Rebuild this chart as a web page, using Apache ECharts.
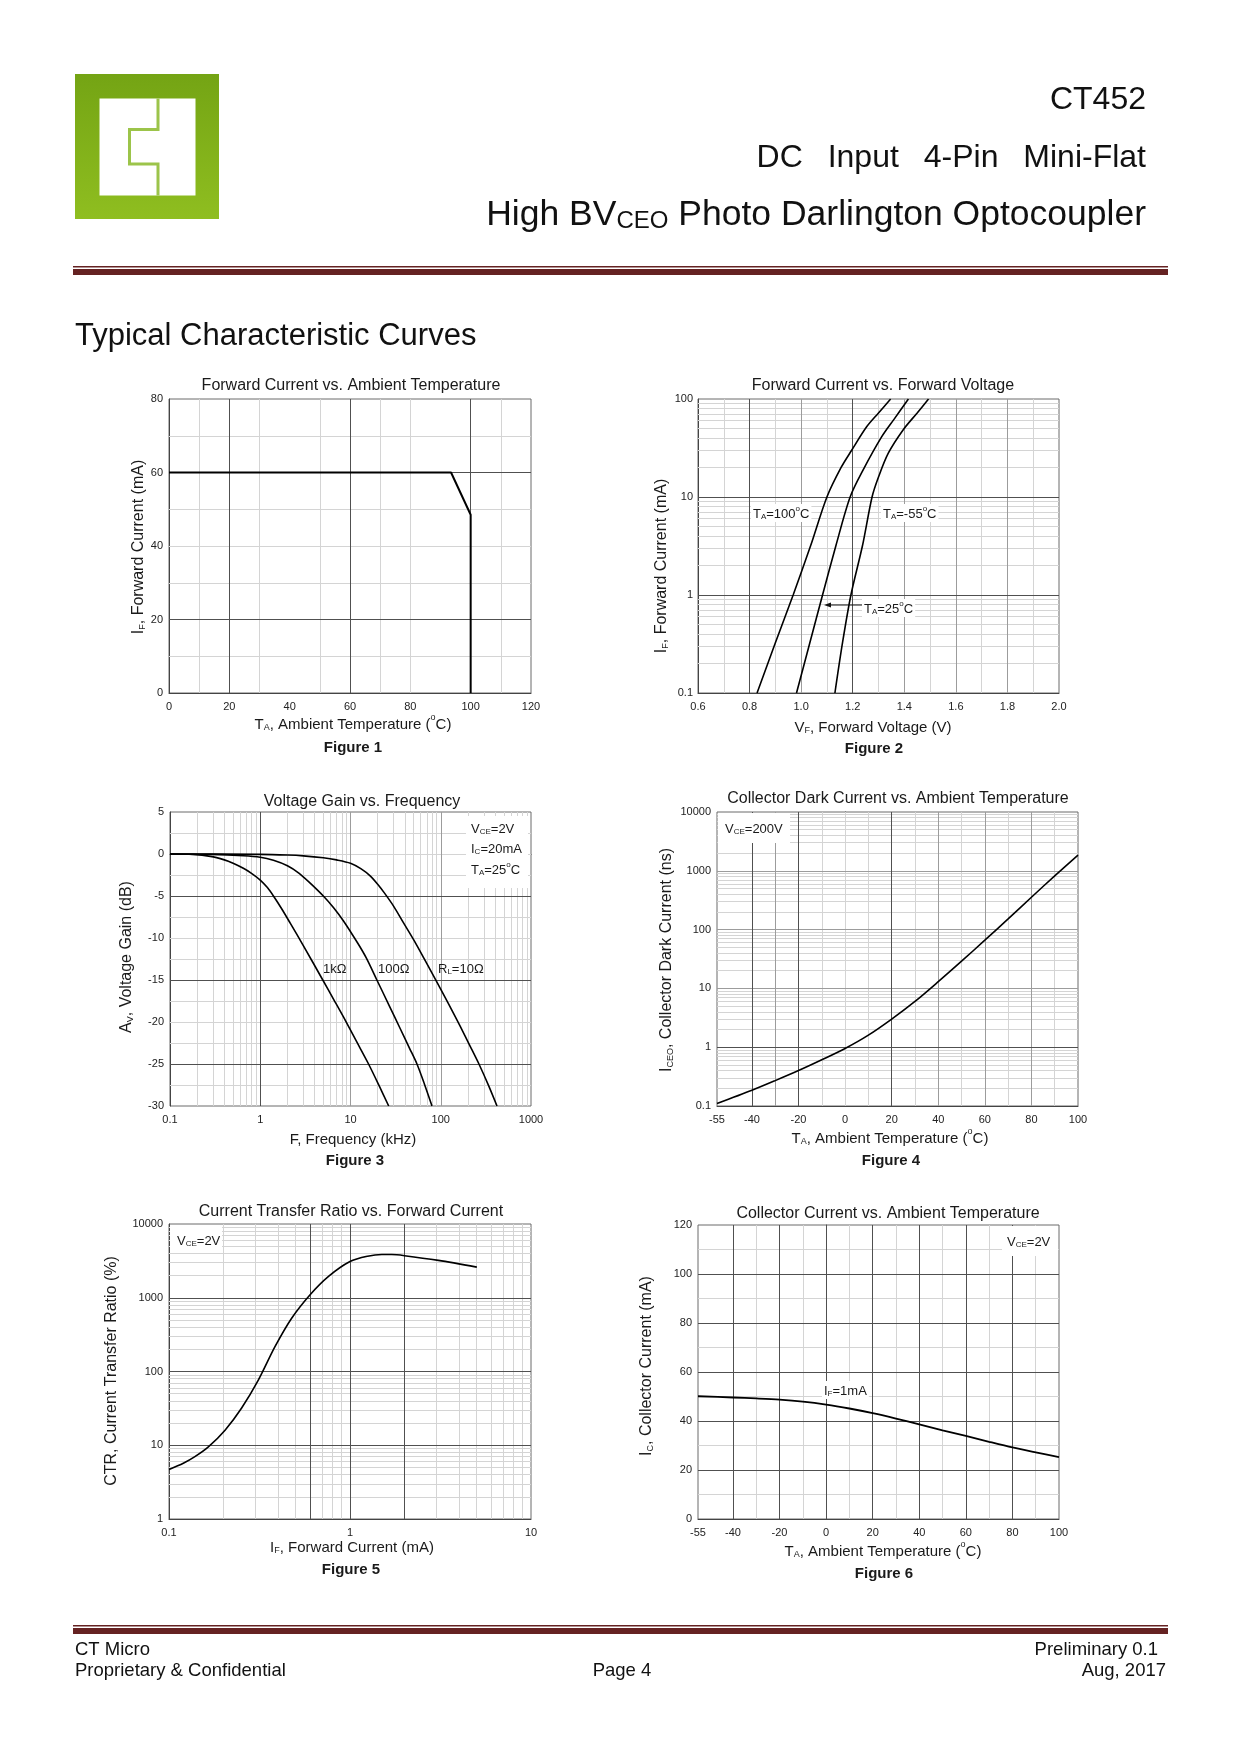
<!DOCTYPE html>
<html><head><meta charset="utf-8">
<script src="https://cdn.jsdelivr.net/npm/echarts@6/dist/echarts.min.js"></script>
<style>html,body{margin:0;padding:0;background:#fff}#c{width:1240px;height:1754px}</style>
</head><body><div id="c"></div>
<script>
// ---------- DATA ----------
// Figure 1: Forward current vs ambient temperature
const fig1Temp = [0, 93.5, 100, 100];
const fig1If   = [60, 60, 48.5, 0];
// Figure 2: Forward current vs forward voltage
const fig2V100 = [0.829,0.899,0.969,1.037,1.100,1.155,1.196,1.254,1.300,1.347];
const fig2I100 = [0.1,0.32,1,3.2,10,20,30,52,72,100];
const fig2V25  = [0.982,1.033,1.083,1.135,1.190,1.241,1.312,1.360,1.416];
const fig2I25  = [0.1,0.32,1,3.2,10,19,41,62,100];
const fig2Vm55 = [1.131,1.160,1.193,1.238,1.275,1.300,1.338,1.396,1.450,1.494];
const fig2Im55 = [0.1,0.32,1,3.2,10,16,28,48.6,72,100];
// Figure 3: Voltage gain vs frequency
const fig3F10  = [0.1,1,2,3,5,7,10,13,16.5,20,23.6,30,38.7,50,65,87,120,164,210,265,340,420];
const fig3G10  = [0,-0.04,-0.12,-0.22,-0.45,-0.7,-1.1,-1.75,-2.6,-3.6,-4.6,-6.2,-8.2,-10.2,-12.4,-14.9,-17.7,-20.5,-22.8,-25,-27.6,-30];
const fig3F100 = [0.1,0.28,0.65,1,1.4,2,2.7,3.6,5,6.5,8.4,12,15,19.6,27,35.6,45,54.5,66,80];
const fig3G100 = [0,-0.05,-0.2,-0.38,-0.75,-1.4,-2.3,-3.5,-5.0,-6.4,-8.0,-10.6,-12.4,-15,-18.1,-20.8,-23.1,-25,-27.4,-30];
const fig3F1k  = [0.1,0.18,0.28,0.4,0.5,0.65,0.8,1,1.2,1.4,1.7,2.14,3,4.93,6.5,8.35,11.5,15.85,21,26.5];
const fig3G1k  = [0,-0.05,-0.28,-0.7,-1.1,-1.7,-2.3,-3.1,-4.0,-5.0,-6.4,-8.2,-10.9,-15,-17.3,-19.4,-22.2,-25,-27.7,-30];
// Figure 4: Collector dark current vs ambient temperature
const fig4Temp = [-55,-40,-30,-20,-10,0,10,20,30,40,50,60,70,80,90,100];
const fig4Iceo = [0.11,0.185,0.27,0.4,0.61,0.95,1.6,3.0,6.0,13,29,66,152,355,820,1850];
// Figure 5: CTR vs forward current
const fig5If  = [0.1,0.12,0.139,0.165,0.204,0.252,0.312,0.385,0.476,0.602,0.761,1,1.25,1.5,1.7,2,3.08,5.02];
const fig5Ctr = [4.7,5.7,7,9.5,16,32,77,217,528,1100,1950,3100,3650,3850,3850,3720,3210,2600];
// Figure 6: Collector current vs ambient temperature
const fig6Temp = [-55,-40,-30,-20,-10,0,10,20,30,40,50,60,70,80,90,100];
const fig6Ic   = [50.1,49.6,49.2,48.7,47.9,46.7,45.1,43.2,41.0,38.6,36.2,33.9,31.5,29.2,27.2,25.3];
// Tick labels for the temperature axes
const tempTicks = [-55,-40,-20,0,20,40,60,80,100];

// ---------- HELPERS ----------
const FONT = '"Liberation Sans", Arial, Helvetica, sans-serif';
const DARK = '#505050', MED = '#9c9c9c', LIGHT = '#d4d4d4';
const pairs = (a, b) => a.map((v, i) => [v, b[i]]);
function logMinors(e0, e1, skip) {
  const out = [];
  for (let e = e0; e <= e1; e++) for (let k = 2; k <= 9; k++) {
    const v = +(k * Math.pow(10, e)).toPrecision(6);
    if (!skip || skip.indexOf(v) < 0) out.push(v);
  }
  return out;
}
function richStr(s) {
  return '{n|' + s.replace(/_\{([^}]*)\}/g, '}{s|$1}{n|').replace(/\^\{([^}]*)\}/g, '}{p|$1}{n|') + '}';
}
function richStyles(size, bold, color) {
  const fw = bold ? 'bold' : 'normal';
  return {
    n: { fontSize: size, fontFamily: FONT, fontWeight: fw, fill: color, lineHeight: Math.round(size * 1.25), verticalAlign: 'bottom' },
    s: { fontSize: Math.round(size * 0.58), fontFamily: FONT, fontWeight: fw, fill: color, lineHeight: Math.max(2, Math.round(size * 0.18)), verticalAlign: 'bottom' },
    p: { fontSize: Math.round(size * 0.62), fontFamily: FONT, fontWeight: fw, fill: color, lineHeight: Math.round(size * 0.35), verticalAlign: 'top' }
  };
}
function T(x, y, str, o) {
  o = o || {};
  const size = o.size || 15, color = o.color || '#111';
  const st = {
    text: richStr(str), rich: richStyles(size, o.bold, color),
    align: o.align || 'center', verticalAlign: o.va || 'middle',
    fontSize: size, fontFamily: FONT, fontWeight: o.bold ? 'bold' : 'normal', fill: color
  };
  if (o.bg) { st.backgroundColor = o.bg; st.padding = o.pad || [1, 2]; }
  return { type: 'text', x: x, y: y, rotation: o.rot || 0, z: 100, style: st };
}
function gridLines(spec) {
  const d = [];
  const add = (arr, key, col) => (arr || []).forEach(v => { const it = { lineStyle: { color: col, width: 1, type: 'solid' } }; it[key] = v; d.push(it); });
  add(spec.xl, 'xAxis', LIGHT); add(spec.yl, 'yAxis', LIGHT);
  add(spec.xm, 'xAxis', MED);   add(spec.ym, 'yAxis', MED);
  add(spec.xd, 'xAxis', DARK);  add(spec.yd, 'yAxis', DARK);
  return { silent: true, z: 1, symbol: ['none', 'none'], label: { show: false }, animation: false,
           lineStyle: { type: 'solid', width: 1 }, emphasis: { disabled: true }, data: d };
}
function curve(gi, data, smooth, width, ml) {
  const s = { type: 'line', xAxisIndex: gi, yAxisIndex: gi, data: data, symbol: 'none', showSymbol: false,
    smooth: smooth, z: 3, lineStyle: { color: '#000', width: width || 1.6 }, silent: true, animation: false };
  if (ml) s.markLine = ml;
  return s;
}
const lbl = { fontFamily: FONT, fontSize: 11, color: '#222' };
const fmtNum = v => String(+(+v).toPrecision(6));
function valAxis(gi, min, max, interval, extra) {
  return Object.assign({ gridIndex: gi, type: 'value', min, max, interval,
    axisLine: { show: true, lineStyle: { color: '#444', width: 1 } }, axisTick: { show: false },
    splitLine: { show: false }, axisLabel: Object.assign({ margin: 8 }, lbl) }, extra || {});
}
function logAxis(gi, min, max, extra) {
  return Object.assign({ gridIndex: gi, type: 'log', logBase: 10, min, max,
    axisLine: { show: true, lineStyle: { color: '#444', width: 1 } }, axisTick: { show: false },
    splitLine: { show: false }, minorSplitLine: { show: false },
    axisLabel: Object.assign({ margin: 8, formatter: fmtNum }, lbl) }, extra || {});
}
const gridBase = { show: true, borderColor: '#6a6a6a', borderWidth: 1, containLabel: false, outerBoundsMode: 'none' };
const grids = [
  { left: 169, top: 399, width: 362, height: 294 },
  { left: 698, top: 399, width: 361, height: 294 },
  { left: 170, top: 812, width: 361, height: 294 },
  { left: 717, top: 812, width: 361, height: 294 },
  { left: 169, top: 1224, width: 362, height: 295 },
  { left: 698, top: 1225, width: 361, height: 294 }
].map(g => Object.assign({}, gridBase, g));

const yLbl = m => ({ axisLabel: Object.assign({ margin: m }, lbl) });
const xAxes = [
  valAxis(0, 0, 120, 20),
  valAxis(1, 0.6, 2.0, 0.2, { axisLabel: Object.assign({ margin: 8, formatter: v => (+v).toFixed(1) }, lbl) }),
  logAxis(2, 0.1, 1000),
  valAxis(3, -55, 100, 5, { axisLabel: Object.assign({ margin: 8, customValues: tempTicks }, lbl) }),
  logAxis(4, 0.1, 10),
  valAxis(5, -55, 100, 5, { axisLabel: Object.assign({ margin: 8, customValues: tempTicks }, lbl) })
];
const yAxes = [
  valAxis(0, 0, 80, 20, yLbl(6)),
  logAxis(1, 0.1, 100, { axisLabel: Object.assign({ margin: 5, formatter: fmtNum }, lbl) }),
  valAxis(2, -30, 5, 5, yLbl(6)),
  logAxis(3, 0.1, 10000, { axisLabel: Object.assign({ margin: 6, formatter: fmtNum }, lbl) }),
  logAxis(4, 1, 10000, { axisLabel: Object.assign({ margin: 6, formatter: fmtNum }, lbl) }),
  valAxis(5, 0, 120, 20, yLbl(6))
];

const series = [
  curve(0, pairs(fig1Temp, fig1If), false, 2,
    gridLines({ xd: [20, 60, 100], xl: [10, 30, 50, 70, 80, 110], yd: [20, 60], yl: [10, 30, 40, 50, 70] })),
  curve(1, pairs(fig2V100, fig2I100), 0.3, 1.6,
    gridLines({ xd: [0.8, 1.2], xm: [1.0, 1.4, 1.6, 1.8], xl: [0.7, 0.9, 1.1, 1.3, 1.5, 1.7, 1.9],
                yd: [1, 10], yl: logMinors(-1, 1) })),
  curve(1, pairs(fig2V25, fig2I25), 0.3, 1.6),
  curve(1, pairs(fig2Vm55, fig2Im55), 0.3, 1.6),
  curve(2, pairs(fig3F10, fig3G10), 0.3, 1.6,
    gridLines({ xd: [1], xm: [10, 100], xl: logMinors(-1, 2),
                yd: [-5, -15, -25], yl: [-27.5, -22.5, -20, -17.5, -12.5, -10, -7.5, -2.5, 0, 2.5] })),
  curve(2, pairs(fig3F100, fig3G100), 0.3, 1.6),
  curve(2, pairs(fig3F1k, fig3G1k), 0.3, 1.6),
  curve(3, pairs(fig4Temp, fig4Iceo), 0.3, 1.6,
    gridLines({ xd: [-40, -20, 20], xm: [-30, 40, 60, 80], xl: [-10, 0, 10, 30, 50, 70, 90],
                yd: [1], ym: [10, 100, 1000], yl: logMinors(-1, 3) })),
  curve(4, pairs(fig5If, fig5Ctr), 0.3, 1.6,
    gridLines({ xd: [0.6, 1, 2], xl: logMinors(-1, 0, [0.6, 2]),
                yd: [10, 100, 1000], yl: logMinors(0, 3) })),
  curve(5, pairs(fig6Temp, fig6Ic), 0.3, 1.8,
    gridLines({ xd: [-40, -20, 0, 20, 40, 60, 80], xl: [-30, -10, 10, 30, 50, 70, 90],
                yd: [20, 40, 60, 80, 100], yl: [10, 30, 50, 70, 90, 110] }))
];

// ---------- PAGE GRAPHICS ----------
const RULE = '#652222';
const g = [];
// logo
g.push({ type: 'rect', shape: { x: 75, y: 74, width: 144, height: 145 },
  style: { fill: { type: 'linear', x: 0, y: 0, x2: 0, y2: 1, colorStops: [{ offset: 0, color: '#74a414' }, { offset: 1, color: '#8fbe20' }] } } });
g.push({ type: 'rect', shape: { x: 99.5, y: 98.5, width: 96, height: 97 }, style: { fill: '#fff' } });
g.push({ type: 'polyline', shape: { points: [[158, 98.5], [158, 129.5], [129.5, 129.5], [129.5, 164], [158, 164], [158, 195.5]] },
  style: { stroke: '#9cc44a', lineWidth: 3, fill: null } });
// header text
g.push(T(1146, 96, 'CT452', { size: 32, align: 'right', color: '#111' }));
g.push(T(1146, 154, 'DC\u2002 Input\u2002 4-Pin\u2002 Mini-Flat', { size: 32, align: 'right', color: '#111' }));
g.push({ type: 'text', x: 1146, y: 212, z: 100, style: {
  text: '{n|High BV}{c|CEO}{n| Photo Darlington Optocoupler}', align: 'right', verticalAlign: 'middle',
  rich: { n: { fontSize: 35.5, fontFamily: FONT, fill: '#111', lineHeight: 42, verticalAlign: 'bottom' },
          c: { fontSize: 24, fontFamily: FONT, fill: '#111', lineHeight: 33, verticalAlign: 'bottom' } } } });
// header rules
g.push({ type: 'rect', shape: { x: 73, y: 266, width: 1095, height: 1.5 }, style: { fill: RULE } });
g.push({ type: 'rect', shape: { x: 73, y: 269, width: 1095, height: 6 }, style: { fill: RULE } });
g.push(T(75, 332, 'Typical Characteristic Curves', { size: 31, align: 'left', color: '#111' }));
// footer
g.push({ type: 'rect', shape: { x: 73, y: 1625, width: 1095, height: 1.5 }, style: { fill: RULE } });
g.push({ type: 'rect', shape: { x: 73, y: 1628, width: 1095, height: 6 }, style: { fill: RULE } });
g.push(T(75, 1648, 'CT Micro', { size: 18.5, align: 'left' }));
g.push(T(75, 1669, 'Proprietary & Confidential', { size: 18.5, align: 'left' }));
g.push(T(622, 1669, 'Page 4', { size: 18.5 }));
g.push(T(1158, 1648, 'Preliminary 0.1', { size: 18.5, align: 'right' }));
g.push(T(1166, 1669, 'Aug, 2017', { size: 18.5, align: 'right' }));

// chart titles, axis names, captions
const C = '#1a1a1a';
g.push(T(351, 384, 'Forward Current vs. Ambient Temperature', { size: 16, color: C }));
g.push(T(353, 723, 'T_{A}, Ambient Temperature (^{o}C)', { size: 15, color: C }));
g.push(T(137, 547, 'I_{F}, Forward Current (mA)', { size: 16, color: C, rot: Math.PI / 2 }));
g.push(T(353, 746, 'Figure 1', { size: 15, bold: true, color: C }));

g.push(T(883, 384, 'Forward Current vs. Forward Voltage', { size: 16, color: C }));
g.push(T(873, 726, 'V_{F}, Forward Voltage (V)', { size: 15, color: C }));
g.push(T(660, 566, 'I_{F}, Forward Current (mA)', { size: 16, color: C, rot: Math.PI / 2 }));
g.push(T(874, 747, 'Figure 2', { size: 15, bold: true, color: C }));

g.push(T(362, 800, 'Voltage Gain vs. Frequency', { size: 16, color: C }));
g.push(T(353, 1138, 'F, Frequency (kHz)', { size: 15, color: C }));
g.push(T(125, 957, 'A_{V}, Voltage Gain (dB)', { size: 16, color: C, rot: Math.PI / 2 }));
g.push(T(355, 1159, 'Figure 3', { size: 15, bold: true, color: C }));

g.push(T(898, 797, 'Collector Dark Current vs. Ambient Temperature', { size: 16, color: C }));
g.push(T(890, 1137, 'T_{A}, Ambient Temperature (^{o}C)', { size: 15, color: C }));
g.push(T(665, 960, 'I_{CEO}, Collector Dark Current (ns)', { size: 16, color: C, rot: Math.PI / 2 }));
g.push(T(891, 1159, 'Figure 4', { size: 15, bold: true, color: C }));

g.push(T(351, 1210, 'Current Transfer Ratio vs. Forward Current', { size: 16, color: C }));
g.push(T(352, 1546, 'I_{F}, Forward Current (mA)', { size: 15, color: C }));
g.push(T(110, 1371, 'CTR, Current Transfer Ratio (%)', { size: 16, color: C, rot: Math.PI / 2 }));
g.push(T(351, 1568, 'Figure 5', { size: 15, bold: true, color: C }));

g.push(T(888, 1212, 'Collector Current vs. Ambient Temperature', { size: 16, color: C }));
g.push(T(883, 1550, 'T_{A}, Ambient Temperature (^{o}C)', { size: 15, color: C }));
g.push(T(645, 1366, 'I_{C}, Collector Current (mA)', { size: 16, color: C, rot: Math.PI / 2 }));
g.push(T(884, 1572, 'Figure 6', { size: 15, bold: true, color: C }));

// in-plot annotations
const box = (x, y, w, h) => ({ type: 'rect', z: 90, shape: { x, y, width: w, height: h }, style: { fill: '#fff' } });
// fig 2
g.push(T(751, 513, 'T_{A}=100^{o}C', { size: 13, align: 'left', color: C, bg: '#fff' }));
g.push(T(881, 513, 'T_{A}=-55^{o}C', { size: 13, align: 'left', color: C, bg: '#fff' }));
g.push(T(862, 608, 'T_{A}=25^{o}C', { size: 13, align: 'left', color: C, bg: '#fff' }));
g.push({ type: 'line', z: 100, shape: { x1: 862, y1: 605, x2: 829, y2: 605 }, style: { stroke: '#111', lineWidth: 1 } });
g.push({ type: 'polygon', z: 100, shape: { points: [[824, 605], [831, 602.5], [831, 607.5]] }, style: { fill: '#111' } });
// fig 3
g.push(box(466, 816, 62, 72));
g.push(T(471, 828, 'V_{CE}=2V', { size: 13, align: 'left', color: C }));
g.push(T(471, 848, 'I_{C}=20mA', { size: 13, align: 'left', color: C }));
g.push(T(471, 869, 'T_{A}=25^{o}C', { size: 13, align: 'left', color: C }));
g.push(T(323, 968, '1kΩ', { size: 13, align: 'left', color: C }));
g.push(T(378, 968, '100Ω', { size: 13, align: 'left', color: C }));
g.push(T(438, 968, 'R_{L}=10Ω', { size: 13, align: 'left', color: C }));
// fig 4
g.push(box(718, 813, 72, 30));
g.push(T(725, 828, 'V_{CE}=200V', { size: 13, align: 'left', color: C }));
// fig 5
g.push(box(170, 1225, 52, 28));
g.push(T(177, 1240, 'V_{CE}=2V', { size: 13, align: 'left', color: C }));
// fig 6
g.push(box(1002, 1226, 56, 30));
g.push(T(1007, 1241, 'V_{CE}=2V', { size: 13, align: 'left', color: C }));
g.push(T(822, 1390, 'I_{F}=1mA', { size: 13, align: 'left', color: C, bg: '#fff' }));

const chart = echarts.init(document.getElementById('c'), null, { renderer: 'canvas', width: 1240, height: 1754 });
chart.setOption({
  backgroundColor: '#fff',
  animation: false,
  textStyle: { fontFamily: FONT },
  grid: grids,
  xAxis: xAxes,
  yAxis: yAxes,
  series: series,
  graphic: { elements: g }
});
</script>
</body></html>
